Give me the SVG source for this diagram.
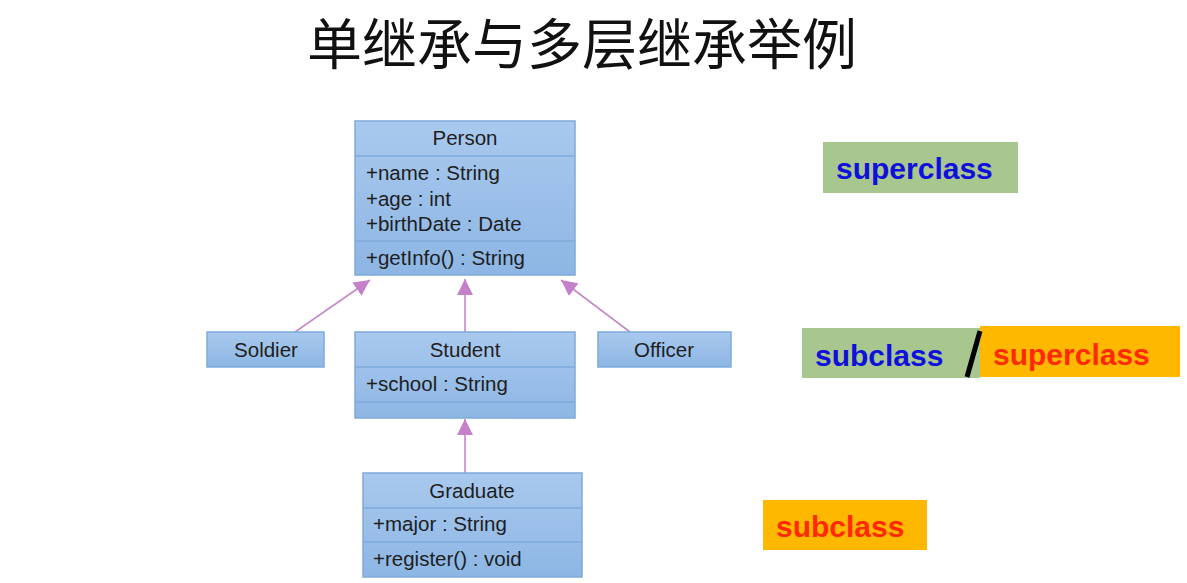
<svg xmlns="http://www.w3.org/2000/svg" width="1187" height="583" viewBox="0 0 1187 583">
<style>
.box{fill:url(#blue);stroke:#7eaadb;stroke-width:1.5}
.div{stroke:#7eaadb;stroke-width:1.5}
.t{font-family:"Liberation Sans",Arial,sans-serif;font-size:20.5px;fill:#1e1e1e}
.c{text-anchor:middle}
.lbl{font-family:"Liberation Sans",Arial,sans-serif;font-size:30px;font-weight:bold}
.conn{stroke:#c689c9;stroke-width:1.6;fill:none}
</style>
<defs>
<linearGradient id="blue" x1="0" y1="0" x2="0" y2="1">
<stop offset="0" stop-color="#a9c9ee"/>
<stop offset="1" stop-color="#8db6e4"/>
</linearGradient>
<marker id="tri2" viewBox="0 0 16 16" refX="16" refY="8" markerWidth="16" markerHeight="16" markerUnits="userSpaceOnUse" orient="auto">
<path d="M0,0 L16,8 L0,16 Z" fill="#c480c8"/>
</marker>
</defs>
<rect width="1187" height="583" fill="#ffffff"/>
<text x="582" y="64" text-anchor="middle" font-family="'Noto Sans CJK SC',sans-serif" font-size="55" fill="#111">单继承与多层继承举例</text>

<g id="connectors">
<line class="conn" x1="295" y1="332" x2="370" y2="280" marker-end="url(#tri2)"/>
<line class="conn" x1="465" y1="332" x2="465" y2="279" marker-end="url(#tri2)"/>
<line class="conn" x1="630" y1="332" x2="561" y2="280" marker-end="url(#tri2)"/>
<line class="conn" x1="465" y1="473" x2="465" y2="419" marker-end="url(#tri2)"/>
</g>

<g id="person">
<rect class="box" x="355" y="121" width="220" height="154"/>
<line class="div" x1="355" y1="156" x2="575" y2="156"/>
<line class="div" x1="355" y1="241" x2="575" y2="241"/>
<text class="t c" x="465" y="145">Person</text>
<text class="t" x="366" y="180">+name : String</text>
<text class="t" x="366" y="206">+age : int</text>
<text class="t" x="366" y="231">+birthDate : Date</text>
<text class="t" x="366" y="265">+getInfo() : String</text>
</g>

<g id="soldier">
<rect class="box" x="207" y="332" width="117" height="35"/>
<text class="t c" x="266" y="357">Soldier</text>
</g>

<g id="student">
<rect class="box" x="355" y="332" width="220" height="86"/>
<line class="div" x1="355" y1="367" x2="575" y2="367"/>
<line class="div" x1="355" y1="402" x2="575" y2="402"/>
<text class="t c" x="465" y="357">Student</text>
<text class="t" x="366" y="391">+school : String</text>
</g>

<g id="officer">
<rect class="box" x="598" y="332" width="133" height="35"/>
<text class="t c" x="664" y="357">Officer</text>
</g>

<g id="graduate">
<rect class="box" x="363" y="473" width="219" height="104"/>
<line class="div" x1="363" y1="508" x2="582" y2="508"/>
<line class="div" x1="363" y1="542" x2="582" y2="542"/>
<text class="t c" x="472" y="498">Graduate</text>
<text class="t" x="373" y="531">+major : String</text>
<text class="t" x="373" y="566">+register() : void</text>
</g>

<g id="label-superclass">
<rect x="823" y="142" width="195" height="51" fill="#a8c78e"/>
<text class="lbl" x="836" y="179" fill="#1010dd">superclass</text>
</g>

<g id="label-sub-super">
<rect x="802" y="328" width="178" height="50" fill="#a8c78e"/>
<rect x="980" y="326" width="200" height="51" fill="#ffb800"/>
<line x1="967" y1="377" x2="980" y2="331" stroke="#000" stroke-width="5"/>
<text class="lbl" x="815" y="366" fill="#1010dd">subclass</text>
<text class="lbl" x="993" y="365" fill="#ff2a00">superclass</text>
</g>

<g id="label-subclass">
<rect x="763" y="500" width="164" height="50" fill="#ffb800"/>
<text class="lbl" x="776" y="537" fill="#ff2a00">subclass</text>
</g>
</svg>
